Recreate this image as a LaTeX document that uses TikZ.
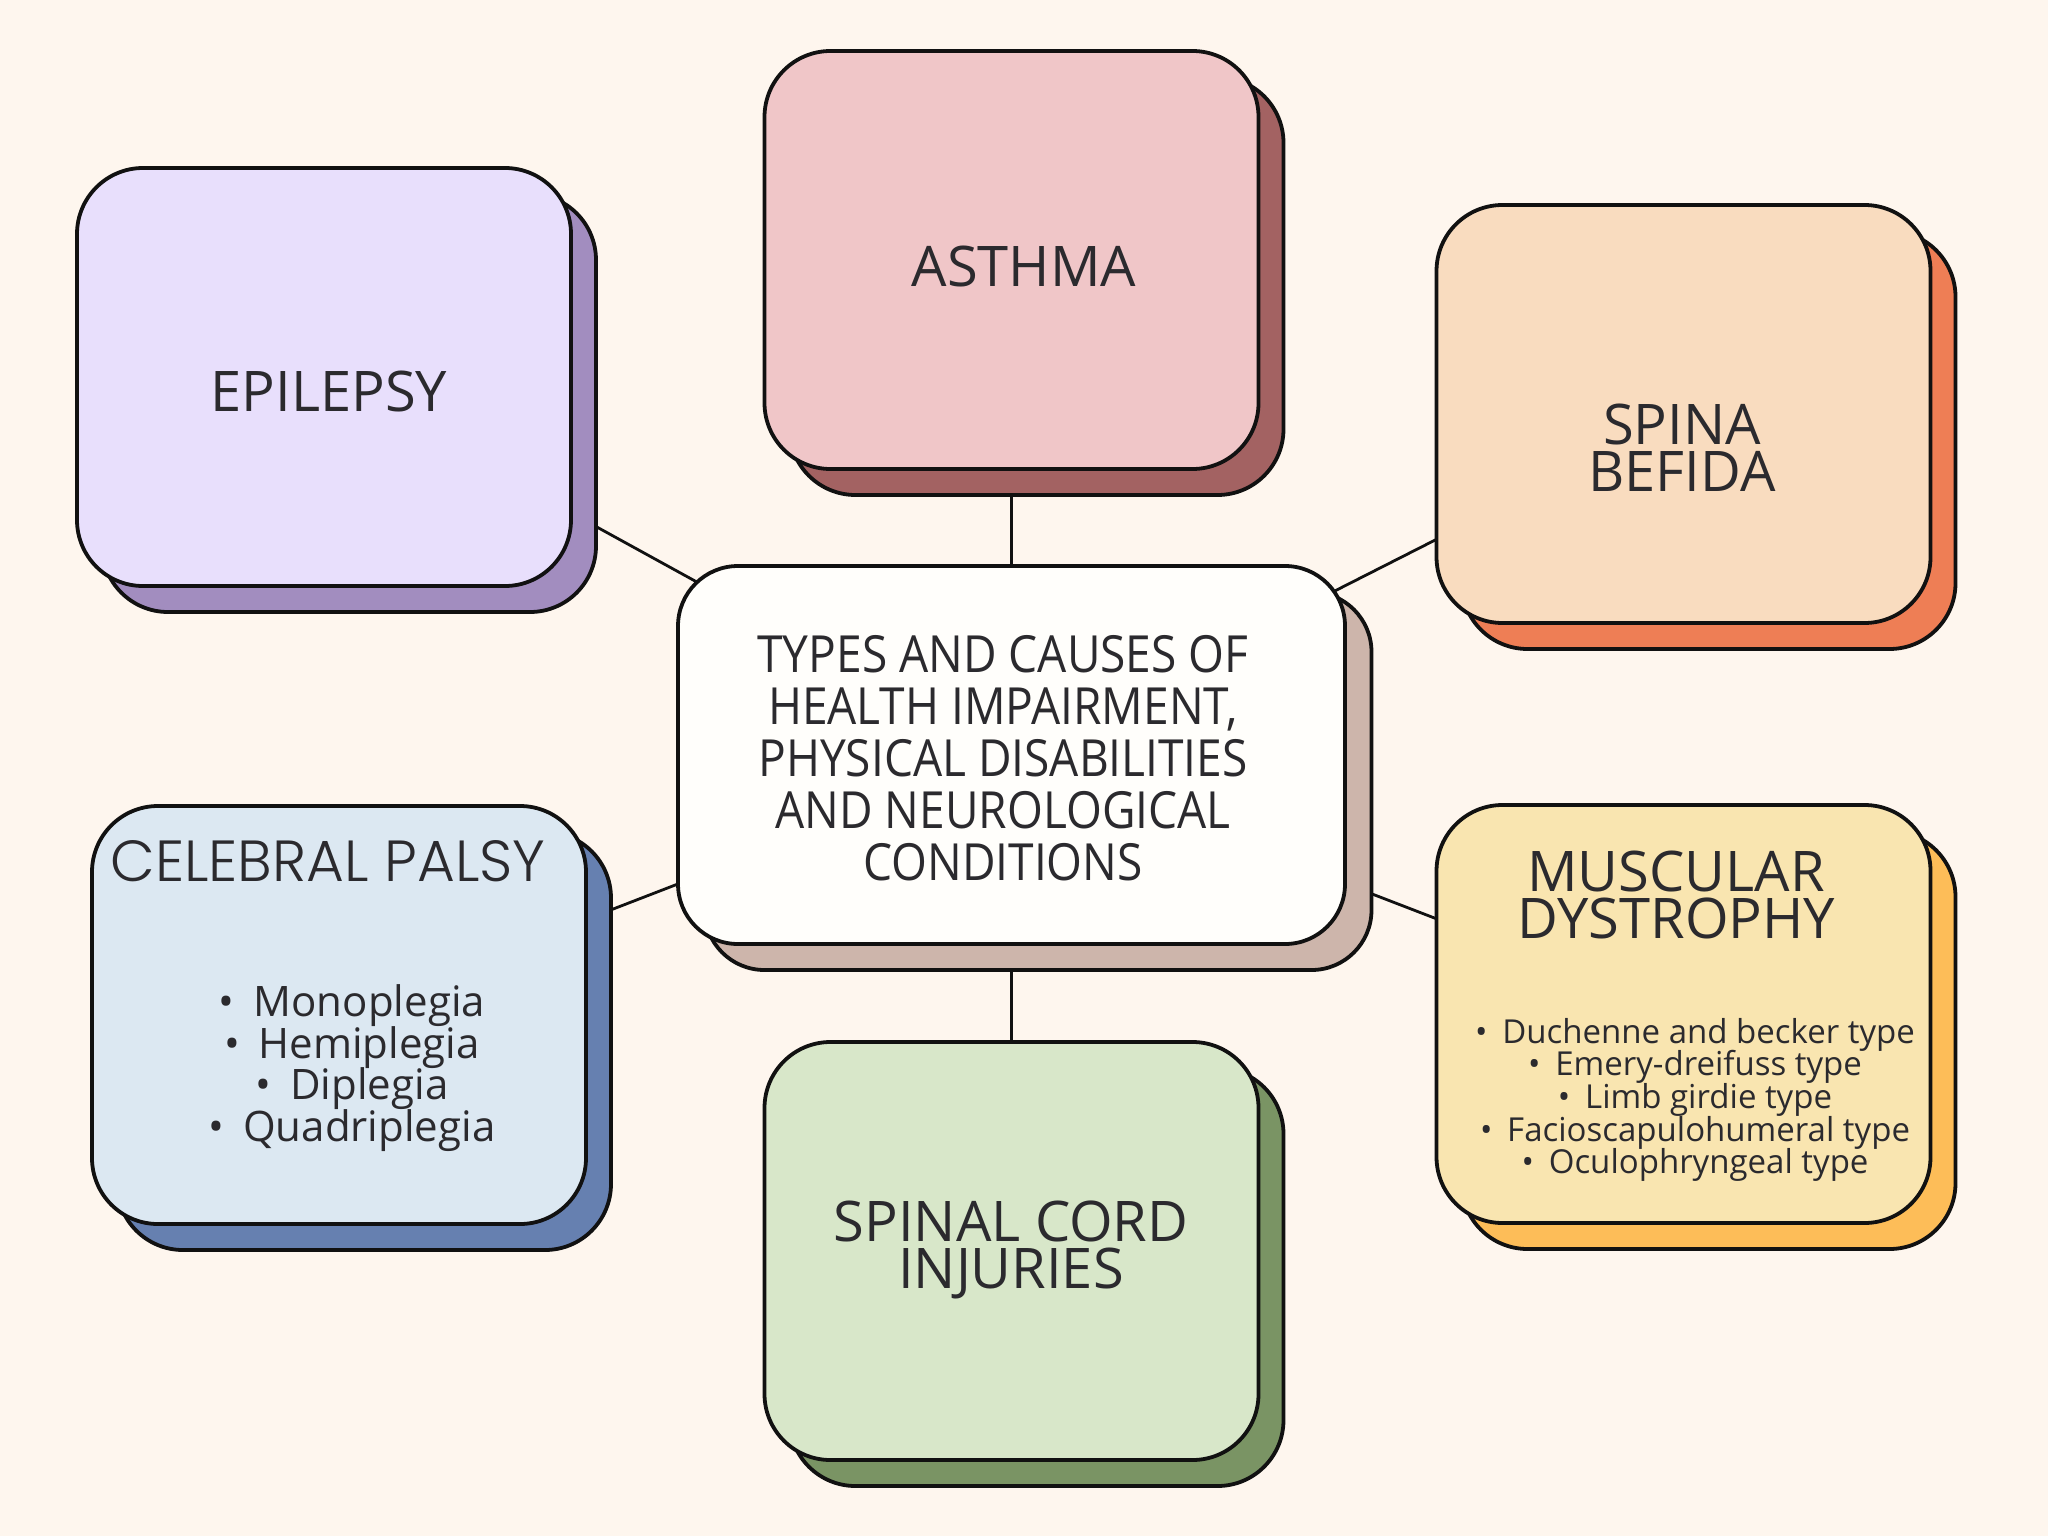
\documentclass[tikz,border=0pt]{standalone}
\usepackage{fontspec}
\setmainfont{Open Sans}
\newfontfamily\condfont{Open Sans}[FakeStretch=0.9]
\newfontfamily\geofont{Poppins}[UprightFont={* Light}]
\newcommand{\tightls}{\setlength{\lineskiplimit}{-50pt}\setlength{\lineskip}{0pt}}
\definecolor{bgc}{HTML}{FEF6EE}
\definecolor{linec}{HTML}{111111}
\definecolor{textc}{HTML}{2B2A2E}
\definecolor{epiF}{HTML}{E8DFFC}\definecolor{epiS}{HTML}{A28DBF}
\definecolor{astF}{HTML}{F0C6C8}\definecolor{astS}{HTML}{A36262}
\definecolor{spiF}{HTML}{F9DCBF}\definecolor{spiS}{HTML}{EE7E55}
\definecolor{ctrF}{HTML}{FFFEFB}\definecolor{ctrS}{HTML}{CDB5AB}
\definecolor{cpF}{HTML}{DCE8F2}\definecolor{cpS}{HTML}{6680B0}
\definecolor{sciF}{HTML}{D8E7C9}\definecolor{sciS}{HTML}{7A9464}
\definecolor{mdF}{HTML}{F9E5B0}\definecolor{mdS}{HTML}{FDBD58}
\pgfdeclarelayer{bglayer}
\pgfdeclarelayer{lines}
\pgfsetlayers{bglayer,lines,main}
\tikzset{
  card/.style={draw=linec, line width=1.9pt, rounded corners=33pt,
    minimum width=247pt, minimum height=209pt, inner sep=0pt, outer sep=0pt},
  bigcard/.style={card, minimum width=333.5pt, minimum height=189pt, rounded corners=30pt},
  conn/.style={draw=linec, line width=1.4pt},
  title/.style={text=textc, align=center, inner sep=0pt,
    font=\fontsize{28}{23.5}\selectfont\tightls},
  ctitle/.style={text=textc, align=center, inner sep=0pt,
    font=\condfont\fontsize{25.6}{26}\selectfont\tightls},
  gtitle/.style={text=textc, align=center, inner sep=0pt,
    font=\geofont\fontsize{29}{30}\selectfont},
  cplist/.style={text=textc, align=center, inner sep=0pt,
    font=\fontsize{21}{20.9}\selectfont\tightls},
  mdlist/.style={text=textc, align=center, inner sep=0pt,
    font=\fontsize{16.5}{16.3}\selectfont\tightls},
}
\newcommand{\bul}{\textbullet\hspace{0.45em}}
\begin{document}
\begin{tikzpicture}[x=0.5pt,y=-0.5pt]
\begin{pgfonlayer}{bglayer}
\fill[bgc] (0,0) rectangle (2048,1536);
\end{pgfonlayer}
\useasboundingbox (0,0) rectangle (2048,1536);

% shadows
\node[card, fill=epiS] (epiSh) at (349,403) {};
\node[card, fill=astS] (astSh) at (1036.5,286) {};
\node[card, fill=spiS] (spiSh) at (1708.5,440) {};
\node[bigcard, fill=ctrS] (ctrSh) at (1038,781) {};
\node[card, fill=cpS] (cpSh) at (364,1041) {};
\node[card, fill=sciS] (sciSh) at (1036.5,1277) {};
\node[card, fill=mdS] (mdSh) at (1708.5,1040) {};

% front cards
\node[card, fill=epiF] (epi) at (324,377) {};
\node[card, fill=astF] (ast) at (1011.5,260) {};
\node[card, fill=spiF] (spi) at (1683.5,414) {};
\node[bigcard, fill=ctrF] (ctr) at (1011.5,755) {};
\node[card, fill=cpF] (cp) at (339,1015) {};
\node[card, fill=sciF] (sci) at (1011.5,1251) {};
\node[card, fill=mdF] (md) at (1683.5,1014) {};

% texts
\node[title] (epiT) at (329,391) {EPILEPSY};
\node[title] (astT) at (1024,266) {ASTHMA};
\node[title] (spiT) at (1682,448) {SPINA\\BEFIDA};
\node[ctitle] (ctrT) at (1003,758) {TYPES AND CAUSES OF\\HEALTH IMPAIRMENT,\\PHYSICAL DISABILITIES\\AND NEUROLOGICAL\\CONDITIONS};
\node[gtitle] (cpT) at (328,861) {CELEBRAL PALSY};
\node[cplist] (cpL) at (352,1068) {\bul Monoplegia\\\bul Hemiplegia\\\bul Diplegia\\\bul Quadriplegia};
\node[title] (sciT) at (1011,1250) {SPINAL CORD\\INJURIES};
\node[title] (mdT) at (1676,895) {MUSCULAR\\DYSTROPHY};
\node[mdlist] (mdL) at (1695,1100) {\bul Duchenne and becker type\\\bul Emery-dreifuss type\\\bul Limb girdie type\\\bul Facioscapulohumeral type\\\bul Oculophryngeal type};

% connectors
\begin{pgfonlayer}{lines}
\draw[conn] (epi.center) -- (ctr.center);
\draw[conn] (ast.center) -- (ctr.center);
\draw[conn] (spi.center) -- (ctr.center);
\draw[conn] (cp.center) -- (ctr.center);
\draw[conn] (sci.center) -- (ctr.center);
\draw[conn] (md.center) -- (ctr.center);
\end{pgfonlayer}
\end{tikzpicture}
\end{document}
